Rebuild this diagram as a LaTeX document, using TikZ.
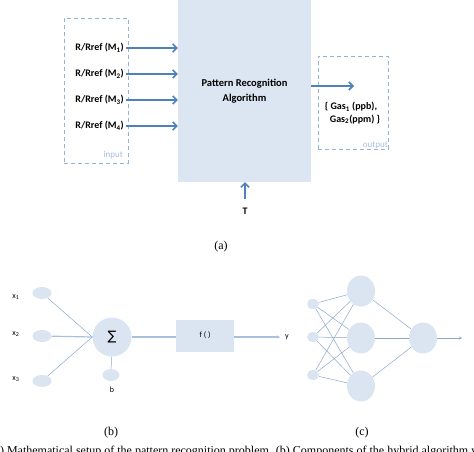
\documentclass[tikz,border=0pt]{standalone}
\usepackage{fontspec}
\setmainfont{Carlito}
\newfontfamily\capfont{Liberation Serif}
\newfontfamily\symfont{DejaVu Sans}
\usetikzlibrary{arrows.meta,shapes.geometric}
\definecolor{boxfill}{HTML}{DCE6F2}
\definecolor{arrblue}{HTML}{4F81BD}
\definecolor{dashblue}{HTML}{95B3D7}
\definecolor{labblue}{HTML}{A7BFDE}
\definecolor{nfill}{HTML}{DBE5F1}
\definecolor{nline}{HTML}{8EA8CA}
\definecolor{tline}{HTML}{A9BFDC}
\tikzset{
  algbox/.style={fill=boxfill, draw=none, minimum width=133pt, minimum height=182pt, inner sep=0pt, align=center,
    font=\bfseries\fontsize{10.5}{15}\selectfont},
  dbox/.style={draw=dashblue, dash pattern=on 4pt off 3pt, line width=0.9pt, inner sep=0pt},
  mlab/.style={font=\bfseries\fontsize{10}{12}\selectfont, inner sep=0pt},
  arr/.style={draw=arrblue, line width=1.6pt, -{Straight Barb[length=4pt,width=8pt]}},
  tag/.style={text=labblue, font=\fontsize{9}{10}\selectfont, inner sep=0pt},
  nlab/.style={font=\fontsize{8}{9}\selectfont, inner sep=0pt},
  capf/.style={font=\capfont\fontsize{12}{14}\selectfont, inner sep=0pt},
  neu/.style={ellipse, fill=nfill, draw=none, inner sep=0pt},
  nl/.style={draw=nline, line width=0.5pt},
  tl/.style={draw=tline, line width=1.2pt},
}
\begin{document}
\begin{tikzpicture}[x=1pt,y=-1pt]
\useasboundingbox (0,0) rectangle (474,452);
\clip (0,0) rectangle (474,452);

% ---------- (a) ----------
\node[algbox] (alg) at (244.5,91) {Pattern Recognition\\Algorithm};
\node[dbox, minimum width=64pt, minimum height=145pt] (inbox) at (96,90.5) {};
\node[tag, anchor=base east] (intag) at (123,157) {input};
\node[mlab, anchor=east] (m1) at (124,48) {R/Rref (M\textsubscript{1})};
\node[mlab, anchor=east] (m2) at (124,74) {R/Rref (M\textsubscript{2})};
\node[mlab, anchor=east] (m3) at (124,100) {R/Rref (M\textsubscript{3})};
\node[mlab, anchor=east] (m4) at (124,126) {R/Rref (M\textsubscript{4})};
\foreach \i in {1,2,3,4}{
  \draw[arr, shorten <=2pt] (m\i.east) -- (m\i.east -| alg.west);
}
\node[dbox, minimum width=70pt, minimum height=93pt] (outbox) at (353,102.5) {};
\node[tag, anchor=base east] (outtag) at (388,147) {output};
\coordinate (outtip) at (354,86);
\draw[arr] (alg.east |- outtip) -- (outtip);
\node[mlab] (g1) at (351,107) {\{ Gas\textsubscript{1} (ppb),};
\node[mlab] (g2) at (355,119.5) {Gas\textsubscript{2}(ppm) \}};
\node[mlab] (T) at (245,211) {T};
\coordinate (tbase) at (245,199);
\draw[arr] (tbase) -- (tbase |- alg.south);
\node[capf] (capa) at (221,247) {(a)};

% ---------- (b) ----------
\node[neu, minimum width=19pt, minimum height=12pt] (x1) at (42,293) {};
\node[neu, minimum width=19pt, minimum height=12pt] (x2) at (42,336) {};
\node[neu, minimum width=19pt, minimum height=12pt] (x3) at (42,381) {};
\node[nlab] (lx1) at (16,297) {x\textsubscript{1}};
\node[nlab] (lx2) at (16,334) {x\textsubscript{2}};
\node[nlab] (lx3) at (16,379) {x\textsubscript{3}};
\node[circle, fill=nfill, minimum size=39pt, inner sep=0pt, font=\symfont\fontsize{13}{15}\selectfont] (sum) at (112,337) {∑};
\node[neu, minimum width=17pt, minimum height=12pt] (b) at (111,375) {};
\node[nlab] (lb) at (112,390) {b};
\draw[nl] (x1) -- (sum.west);
\draw[tl] (x2) -- (sum.west);
\draw[nl] (x3) -- (sum.west);
\draw[nl] (sum) -- (b);
\node[fill=nfill, minimum width=58pt, minimum height=32pt, inner sep=0pt, font=\fontsize{8}{9}\selectfont] (f) at (205,335.5) {f ( )};
\draw[tl] (sum.east) -- (sum.east -| f.west);
\node[nlab] (y) at (287,337) {y};
\draw[tl, -{Stealth[length=3pt,width=3pt]}, shorten >=5pt] (f.east |- y) -- (y.west);
\node[capf] (capb) at (111,433) {(b)};

% ---------- (c) ----------
\node[neu, minimum width=12pt, minimum height=10pt] (i1) at (313,304) {};
\node[neu, minimum width=12pt, minimum height=10pt] (i2) at (313,337) {};
\node[neu, minimum width=12pt, minimum height=10pt] (i3) at (313,375) {};
\node[neu, minimum width=28pt, minimum height=31pt] (h1) at (361,291) {};
\node[neu, minimum width=28pt, minimum height=31pt] (h2) at (361,338) {};
\node[neu, minimum width=28pt, minimum height=31pt] (h3) at (361,386) {};
\node[neu, minimum width=28pt, minimum height=31pt] (o) at (423,338) {};
\foreach \i in {1,2,3}{
  \foreach \h in {1,2,3}{
    \draw[nl] (i\i) -- (h\h);
  }
  \draw[nl] (h\i) -- (o);
}
\coordinate (cend) at (462,338);
\draw[nl, -{Stealth[length=3pt,width=3pt]}] (o) -- (cend);
\node[capf] (capc) at (362,433) {(c)};

% ---------- caption (clipped, as in the reference) ----------
\node[capf, anchor=base west] (cap) at (-9.5,454) {(a) Mathematical setup of the pattern recognition problem. (b) Components of the hybrid algorithm with};
\end{tikzpicture}
\end{document}
